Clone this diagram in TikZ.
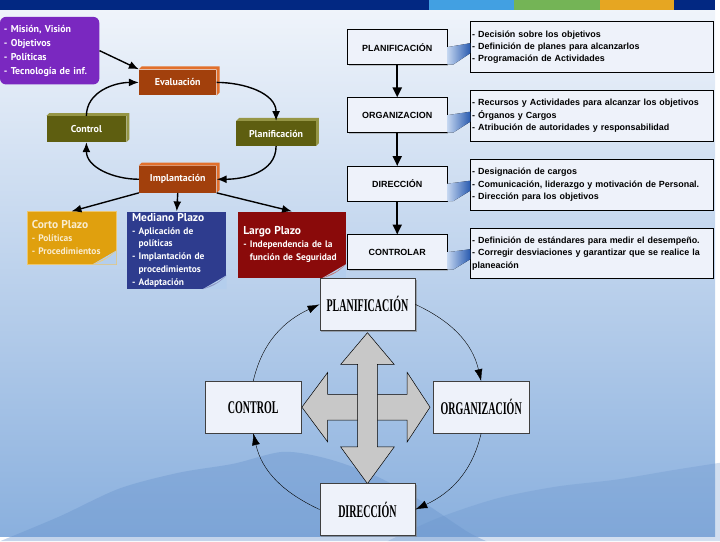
\documentclass[tikz,border=0pt]{standalone}
\usepackage{fontspec}
\setmainfont{Liberation Sans}
\newfontfamily\candara{PT Sans}
\newfontfamily\cartel{Liberation Serif}
\usetikzlibrary{arrows.meta,calc,shadows}

\definecolor{bgtop}{RGB}{241,245,251}
\definecolor{bgmid}{RGB}{180,206,237}
\definecolor{bgbot}{RGB}{138,176,222}
\definecolor{hill}{RGB}{105,148,205}
\definecolor{barblue}{RGB}{2,40,130}
\definecolor{barcyan}{RGB}{66,160,226}
\definecolor{bargreen}{RGB}{116,180,86}
\definecolor{barorange}{RGB}{230,166,34}
\definecolor{morado}{RGB}{122,40,192}
\definecolor{ladrillo}{RGB}{162,64,12}
\definecolor{ladrillohi}{RGB}{226,112,44}
\definecolor{oliva}{RGB}{94,94,16}
\definecolor{olivahi}{RGB}{150,150,70}
\definecolor{cortocol}{RGB}{224,160,14}
\definecolor{medianocol}{RGB}{46,60,142}
\definecolor{largocol}{RGB}{138,10,10}
\definecolor{caja}{RGB}{238,242,250}
\definecolor{globoclaro}{RGB}{196,214,240}
\definecolor{globooscuro}{RGB}{40,90,175}
\definecolor{gris}{RGB}{200,200,200}

\tikzset{
  fase/.style={minimum width=78pt, minimum height=26pt, inner sep=0pt, text=white,
    font=\candara\bfseries\fontsize{10}{12}\selectfont},
  plazo/.style={align=left, text=white, inner xsep=5pt, inner ysep=0pt,
    font=\candara\bfseries\fontsize{9.5}{13}\selectfont},
  etapa/.style={draw=black, fill=caja, line width=0.8pt, minimum width=100pt,
    minimum height=35pt, inner sep=0pt, font=\bfseries\fontsize{9}{11}\selectfont,
    drop shadow={shadow xshift=1pt, shadow yshift=-1pt, opacity=0.4}},
  detalle/.style={draw=black, fill=caja, line width=0.8pt, minimum width=244pt,
    minimum height=51pt, text width=241pt, inner xsep=1.5pt, align=left,
    font=\bfseries\fontsize{9}{12.5}\selectfont},
  ciclo/.style={draw=black!75, fill=caja, line width=0.5pt, minimum width=96pt,
    minimum height=52pt, inner sep=0pt, font=\cartel\bfseries\fontsize{18}{20}\selectfont,
    drop shadow={shadow xshift=1.5pt, shadow yshift=-1.5pt, opacity=0.6}},
  flecha/.style={-{Latex[length=10pt,width=8pt]}, line width=1.4pt},
  baja/.style={-{Triangle[length=10pt,width=9pt]}, line width=2pt},
  giro/.style={-{Latex[length=12pt,width=8pt]}, line width=0.4pt},
}

\begin{document}
\begin{tikzpicture}[x=1pt,y=1pt]
  % fondo
  \shade[top color=bgtop, middle color=bgmid, bottom color=bgbot] (0,0) rectangle (720,-540);
  \fill[hill, opacity=0.4] plot[smooth] coordinates {(0,-545) (60,-520) (120,-492) (180,-476) (235,-467) (285,-455) (330,-462) (380,-480) (425,-505) (470,-535) (490,-545)} -- cycle;
  \fill[hill, opacity=0.3] plot[smooth] coordinates {(390,-545) (440,-522) (500,-502) (560,-490) (620,-483) (680,-473) (725,-466)} -- (725,-545) -- cycle;
  \fill[barblue] (0,0) rectangle (432,-10);
  \fill[barcyan] (432,0) rectangle (518,-10);
  \fill[bargreen] (518,0) rectangle (604,-10);
  \fill[barorange] (604,0) rectangle (679,-10);
  \fill[barblue] (679,0) rectangle (720,-10);
  \useasboundingbox (0,0) rectangle (720,-540);

  % ciclo de seguridad
  \node[fill=morado, rounded corners=6pt, minimum height=68pt, text width=92pt, inner xsep=4pt,
    align=left, text=white, font=\candara\bfseries\fontsize{10}{14}\selectfont]
    (mision) at (50,-51) {- Misión, Visión\\- Objetivos\\- Políticas\\- Tecnología de inf.};
  \node[fase, fill=ladrillo] (eval) at (179,-83) {Evaluación};
  \node[fase, fill=oliva, minimum width=80pt] (ctrl) at (87,-130) {Control};
  \node[fase, fill=oliva, minimum width=80pt, minimum height=25pt] (plan) at (278,-134.5) {Planificación};
  \node[fase, fill=ladrillo, minimum height=27pt] (impl) at (179,-180.5) {Implantación};
  \foreach \n/\c in {eval/ladrillohi, impl/ladrillohi, ctrl/olivahi, plan/olivahi}
    \fill[\c] (\n.north west) -- ++(3,3) -- ($(\n.north east)+(3,3)$) -- ($(\n.south east)+(3,3)$)
      -- (\n.south east) -- (\n.north east) -- cycle;

  \node[plazo, fill=cortocol, draw=cortocol!60!white, minimum width=90pt, minimum height=53pt,
    text width=80pt, text=cortocol!20!white] (corto) at (72,-239.5)
    {{\fontsize{11.5}{14}\selectfont Corto Plazo}\\- Políticas\\- Procedimientos};
  \node[plazo, fill=medianocol, minimum width=100pt, minimum height=78pt, text width=90pt]
    (mediano) at (178,-252)
    {{\fontsize{11.5}{13}\selectfont Mediano Plazo}\\- Aplicación de\\\phantom{- }políticas\\- Implantación de\\\phantom{- }procedimientos\\- Adaptación};
  \node[plazo, fill=largocol, minimum width=108pt, minimum height=67pt, text width=98pt]
    (largo) at (294,-246.5)
    {{\fontsize{11.5}{14}\selectfont Largo Plazo}\\- Independencia de la\\\phantom{- }función de Seguridad};
  \foreach \n/\c in {corto/cortocol, mediano/medianocol, largo/largocol} {
    \fill[bgmid] (\n.south east) -- ++(-24,0) -- ++(24,14) -- cycle;
    \fill[\c!55!white] ($(\n.south east)+(-24,0)$) to[bend right=15] ($(\n.south east)+(0,14)$)
      -- ($(\n.south east)+(-9,7)$) -- cycle;
  }

  \draw[flecha] (mision.east) -- (eval.north west);
  \draw[flecha] (ctrl.north) to[out=90, in=180] (eval.west);
  \draw[flecha] (eval.east) to[out=0, in=90] (plan.north);
  \draw[flecha] (plan.south) to[out=-90, in=0] (impl.east);
  \draw[flecha] (impl.west) to[out=180, in=-90] (ctrl.south);
  \draw[flecha] (impl.south west) -- (corto.north);
  \draw[flecha] (impl.south) -- (mediano.north);
  \draw[flecha] (impl.south east) -- (largo.north);

  % proceso administrativo
  \node[etapa] (planA) at (400,-47.5) {PLANIFICACIÓN};
  \node[etapa] (orgA) at (400,-116) {ORGANIZACION};
  \node[etapa] (dirA) at (400,-185) {DIRECCIÓN};
  \node[etapa] (ctrlA) at (400,-254) {CONTROLAR};
  \node[detalle] (detA) at (596,-47.5)
    {- Decisión sobre los objetivos\\- Definición de planes para alcanzarlos\\- Programación de Actividades};
  \node[detalle] (detB) at (596,-116.5)
    {- Recursos y Actividades para alcanzar los objetivos\\- Órganos y Cargos\\- Atribución de autoridades y responsabilidad};
  \node[detalle] (detC) at (596,-186)
    {- Designación de cargos\\\mbox{- Comunicación, liderazgo y motivación de Personal.}\\- Dirección para los objetivos};
  \node[detalle] (detD) at (596,-255)
    {\mbox{- Definición de estándares para medir el desempeño.}\\\mbox{- Corregir desviaciones y garantizar que se realice la}\\planeación};
  \foreach \e/\d in {planA/detA, orgA/detB, dirA/detC, ctrlA/detD}
    \fill[left color=globoclaro, right color=globooscuro] (\e.east) -- ($(\d.west)+(0,4)$)
      -- ($(\d.west)+(0,-6)$) -- ($(\e.east)+(6,-17.5)$) -- ($(\e.east)+(0,-17.5)$) -- cycle;
  \draw[baja] (planA) -- (orgA);
  \draw[baja] (orgA) -- (dirA);
  \draw[baja] (dirA) -- (ctrlA);

  % ciclo inferior
  \filldraw[fill=gris, draw=black, line width=0.5pt] (304,-410) -- (330,-375) -- (330,-397)
    -- (410,-397) -- (410,-375) -- (433,-410) -- (410,-445) -- (410,-423) -- (330,-423)
    -- (330,-445) -- cycle;
  \filldraw[fill=gris, draw=black, line width=0.5pt] (370,-335) -- (397,-367) -- (380,-367)
    -- (380,-450) -- (397,-450) -- (370,-487) -- (343,-450) -- (360,-450) -- (360,-367)
    -- (343,-367) -- cycle;
  \node[ciclo] (planC) at (370,-306.5) {\scalebox{0.56}[1]{PLANIFICACIÓN}};
  \node[ciclo] (ctrlC) at (255,-410) {\scalebox{0.56}[1]{CONTROL}};
  \node[ciclo] (orgC) at (484.5,-410) {\scalebox{0.56}[1]{ORGANIZACIÓN}};
  \node[ciclo] (dirC) at (370,-513) {\scalebox{0.56}[1]{DIRECCIÓN}};
  \draw[giro] (planC.east) to[out=-25, in=103] (orgC.north);
  \draw[giro] (orgC.south) to[out=-103, in=25] (dirC.east);
  \draw[giro] (dirC.west) to[out=155, in=-77] (ctrlC.south);
  \draw[giro] (ctrlC.north) to[out=77, in=-155] (planC.west);
\end{tikzpicture}
\end{document}
